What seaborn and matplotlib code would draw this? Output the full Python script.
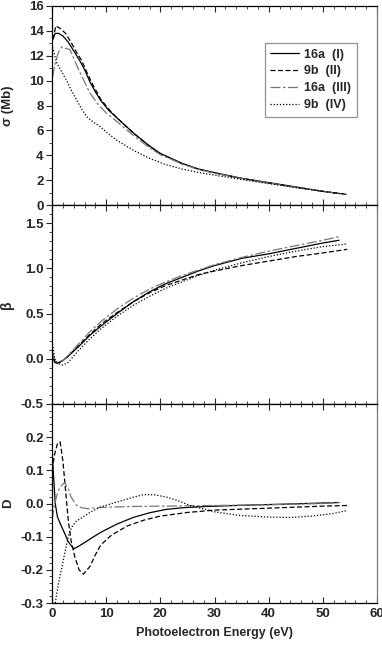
import seaborn as sns
import matplotlib.pyplot as plt
from matplotlib.ticker import MultipleLocator, FixedLocator

sns.set_theme(style="ticks")
plt.rcParams['font.family'] = ['Liberation Sans', 'DejaVu Sans']
plt.rcParams['font.weight'] = 'bold'

labels = ["16a  (I)", "9b  (II)", "16a  (III)", "9b  (IV)"]

# cross section sigma (Mb)
sig_x1 = [0.2, 0.6, 1.2, 2, 3, 4, 5, 6, 7, 8, 9, 10.5, 12, 15, 18, 20, 22, 24, 27, 30, 35, 40, 45, 50, 53]
sig_y1 = [13.4, 13.8, 13.8, 13.6, 13.1, 12.4, 11.7, 10.9, 9.9, 9.1, 8.4, 7.6, 7.0, 5.8, 4.75, 4.15, 3.75, 3.35, 2.9, 2.6, 2.15, 1.8, 1.45, 1.1, 0.92]
sig_x2 = [0.2, 0.7, 1.5, 2.5, 3.5, 4.5, 5.5, 6.5, 7.5, 9, 10.5, 12, 15, 18, 20, 22, 24, 27, 30, 35, 40, 45, 50, 54.5]
sig_y2 = [13.3, 14.4, 14.2, 13.8, 13.1, 12.3, 11.6, 10.6, 9.7, 8.5, 7.7, 7.0, 5.8, 4.72, 4.12, 3.72, 3.32, 2.88, 2.58, 2.13, 1.78, 1.43, 1.1, 0.85]
sig_x3 = [0.1, 0.6, 1.2, 1.8, 2.5, 3.3, 4, 5, 6, 7, 8.5, 10, 12, 15, 18, 20, 22, 24, 27, 30, 35, 40, 45, 50, 53]
sig_y3 = [10.3, 11.4, 12.3, 12.7, 12.6, 12.5, 11.8, 10.8, 9.9, 9.0, 8.1, 7.4, 6.7, 5.6, 4.6, 4.05, 3.68, 3.3, 2.86, 2.56, 2.12, 1.77, 1.42, 1.1, 0.92]
sig_x4 = [0.1, 0.5, 0.9, 1.8, 2.7, 3.6, 4.6, 5.5, 6.4, 7.5, 8.9, 10.5, 12, 15, 18, 21, 24, 27, 30, 35, 40, 45, 50, 54.5]
sig_y4 = [12.7, 12.0, 11.4, 10.7, 10.0, 9.2, 8.4, 7.7, 7.1, 6.7, 6.3, 5.7, 5.2, 4.4, 3.75, 3.25, 2.9, 2.62, 2.4, 2.05, 1.72, 1.4, 1.1, 0.85]

# asymmetry parameter beta
bx_a = [0, 0.5, 1, 2, 3, 5, 7, 9, 12, 15, 18, 21, 24, 27, 30, 35, 40, 45, 50, 53]
bet_y1 = [0.05, -0.04, -0.05, -0.02, 0.03, 0.14, 0.26, 0.36, 0.5, 0.63, 0.74, 0.83, 0.9, 0.97, 1.03, 1.11, 1.16, 1.22, 1.28, 1.31]
bet_y3 = [0.1, -0.02, -0.04, -0.02, 0.04, 0.17, 0.3, 0.41, 0.55, 0.67, 0.77, 0.85, 0.92, 0.98, 1.04, 1.12, 1.19, 1.25, 1.31, 1.35]
bx_b = [0, 0.5, 1, 2, 3, 5, 7, 9, 12, 15, 18, 21, 24, 27, 30, 35, 40, 45, 50, 54.5]
bet_y2 = [0.08, -0.03, -0.05, -0.02, 0.03, 0.15, 0.27, 0.38, 0.51, 0.63, 0.73, 0.81, 0.87, 0.93, 0.97, 1.03, 1.08, 1.13, 1.17, 1.21]
bet_y4 = [0.2, 0.0, -0.05, -0.07, -0.04, 0.1, 0.22, 0.33, 0.47, 0.59, 0.69, 0.78, 0.85, 0.92, 0.98, 1.06, 1.13, 1.19, 1.24, 1.27]

# dichroism parameter D
d_x1 = [0, 0.3, 0.6, 1.0, 1.5, 2.2, 3, 4, 5, 6, 7.5, 9, 12, 15, 18, 21, 24, 27, 32, 38, 45, 53]
d_y1 = [0.16, 0.08, 0.0, -0.04, -0.06, -0.085, -0.115, -0.137, -0.128, -0.118, -0.102, -0.087, -0.062, -0.042, -0.028, -0.018, -0.013, -0.01, -0.007, -0.004, -0.001, 0.003]
d_x2 = [0, 0.5, 1.0, 1.5, 2.0, 2.5, 3, 3.5, 4.2, 5, 5.8, 7, 8, 9, 11, 14, 17, 20, 25, 30, 35, 40, 45, 50, 54.5]
d_y2 = [0.1, 0.15, 0.18, 0.186, 0.13, 0.04, -0.05, -0.11, -0.16, -0.2, -0.213, -0.19, -0.155, -0.125, -0.095, -0.067, -0.05, -0.038, -0.027, -0.02, -0.017, -0.014, -0.011, -0.008, -0.006]
d_x3 = [0, 0.5, 1, 1.5, 2.3, 3, 3.5, 4.5, 5.5, 6.7, 8, 10, 15, 20, 30, 40, 50, 53]
d_y3 = [-0.05, 0.0, 0.03, 0.05, 0.063, 0.045, 0.02, -0.005, -0.013, -0.016, -0.013, -0.011, -0.009, -0.008, -0.006, -0.004, 0.0, 0.003]
d_x4 = [0.6, 1.2, 2.1, 3, 3.6, 4.5, 5.8, 7, 8.9, 11.9, 15, 17, 19, 21.2, 23, 25.5, 30, 34.7, 40, 44, 48, 52, 54.5]
d_y4 = [-0.3, -0.24, -0.17, -0.1, -0.072, -0.053, -0.04, -0.027, -0.011, 0.004, 0.019, 0.027, 0.026, 0.019, 0.01, -0.006, -0.025, -0.036, -0.041, -0.042, -0.038, -0.03, -0.021]

styles = [dict(color="black", linestyle="-"),
          dict(color="black", linestyle=(0, (4, 2))),
          dict(color="#777777", linestyle=(0, (8, 2, 2, 2))),
          dict(color="black", linestyle=(0, (1, 1.5)))]

fig = plt.figure(figsize=(3.82, 6.48), dpi=100)
L, W = 52 / 382, 325 / 382
ax1 = fig.add_axes([L, 1 - 205 / 648, W, 199 / 648])
ax2 = fig.add_axes([L, 1 - 404 / 648, W, 199 / 648])
ax3 = fig.add_axes([L, 1 - 603 / 648, W, 199 / 648])

for xs, ys, st, lab in zip([sig_x1, sig_x2, sig_x3, sig_x4], [sig_y1, sig_y2, sig_y3, sig_y4], styles, labels):
    sns.lineplot(x=xs, y=ys, ax=ax1, lw=0.9, label=lab, **st)
for xs, ys, st in zip([bx_a, bx_b, bx_a, bx_b], [bet_y1, bet_y2, bet_y3, bet_y4], styles):
    sns.lineplot(x=xs, y=ys, ax=ax2, lw=0.9, **st)
for xs, ys, st in zip([d_x1, d_x2, d_x3, d_x4], [d_y1, d_y2, d_y3, d_y4], styles):
    sns.lineplot(x=xs, y=ys, ax=ax3, lw=0.9, **st)

ax1.set_ylim(0, 16)
ax1.yaxis.set_major_locator(MultipleLocator(2))
ax1.yaxis.set_minor_locator(MultipleLocator(1))
ax2.set_ylim(-0.5, 1.7)
ax2.yaxis.set_major_locator(FixedLocator([-0.5, 0.0, 0.5, 1.0, 1.5]))
ax2.yaxis.set_minor_locator(MultipleLocator(0.1))
ax2.set_yticklabels(["-0.5", "0.0", "0.5", "1.0", "1.5"])
ax3.set_ylim(-0.3, 0.3)
ax3.yaxis.set_major_locator(FixedLocator([-0.3, -0.2, -0.1, 0.0, 0.1, 0.2]))
ax3.yaxis.set_minor_locator(MultipleLocator(0.02))
ax3.set_yticklabels(["-0.3", "-0.2", "-0.1", "0.0", "0.1", "0.2"])

for ax in (ax1, ax2, ax3):
    ax.set_xlim(0, 60)
    ax.xaxis.set_major_locator(MultipleLocator(10))
    ax.xaxis.set_minor_locator(MultipleLocator(2))
    ax.tick_params(axis="x", which="both", direction="in", top=True, labelsize=9.5)
    ax.tick_params(axis="x", which="major", length=4, width=0.8)
    ax.tick_params(axis="x", which="minor", length=2.5, width=0.6)
    ax.tick_params(axis="y", which="major", direction="out", length=4, width=0.8, labelsize=9.5, pad=2)
    ax.tick_params(axis="y", which="minor", direction="out", length=2.5, width=0.6)
    for s in ax.spines.values():
        s.set_visible(True)
        s.set_linewidth(0.9)
        s.set_color("black")
    ax.spines["right"].set_color("#777777")
    for t in ax.get_xticklabels() + ax.get_yticklabels():
        t.set_fontweight("bold")

ax1.tick_params(axis="x", labelbottom=False)
ax2.tick_params(axis="x", labelbottom=False)

ax1.set_ylabel("σ (Mb)", fontsize=9.5, fontweight="bold")
ax2.set_ylabel("β", fontsize=10, fontweight="bold")
ax3.set_ylabel("D", fontsize=9.5, fontweight="bold")
for ax in (ax1, ax2, ax3):
    ax.yaxis.set_label_coords(-0.118, 0.5)
ax3.set_xlabel("Photoelectron Energy (eV)", fontsize=9, fontweight="bold", labelpad=5)

leg = ax1.legend(loc="upper right", bbox_to_anchor=(0.938, 0.814), borderaxespad=0, frameon=True,
                 fancybox=False, fontsize=9, handlelength=2.3, handletextpad=0.4, borderpad=0.45,
                 labelspacing=0.38)
leg.get_frame().set_edgecolor("#777777")
leg.get_frame().set_linewidth(0.9)
for t in leg.get_texts():
    t.set_fontweight("bold")

fig.savefig("out.png", dpi=100)
